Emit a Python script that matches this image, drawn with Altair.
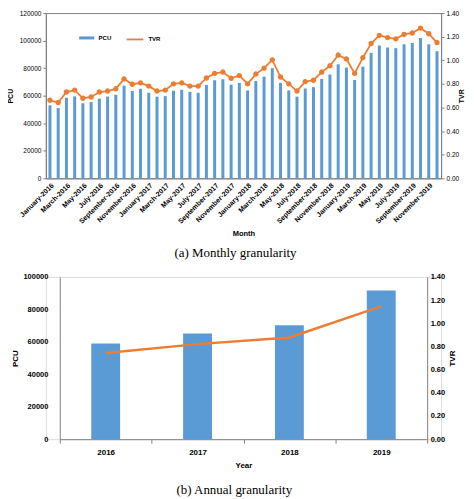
import altair as alt
import pandas as pd

BLUE = "#5B9BD5"
ORANGE = "#ED7D31"

month_names = ["January", "February", "March", "April", "May", "June", "July",
               "August", "September", "October", "November", "December"]
years_m = [2016, 2017, 2018, 2019]
months = [f"{m}-{y}" for y in years_m for m in month_names]

pcu_m = [53000, 51000, 58500, 59500, 54500, 55400, 57800, 59300, 60700, 67300, 63500, 65000,
         62100, 59300, 59700, 63500, 64300, 62800, 62100, 67800, 71200, 71900, 68000, 69300,
         63800, 70700, 73800, 80000, 69300, 63800, 59300, 65200, 66200, 72100, 75400, 82800,
         80400, 71400, 81100, 91100, 96400, 95000, 94500, 97300, 98300, 101900, 97300, 92300]
tvr_m = [0.661, 0.642, 0.731, 0.747, 0.678, 0.689, 0.731, 0.739, 0.758, 0.842, 0.797, 0.808,
         0.781, 0.739, 0.747, 0.800, 0.808, 0.781, 0.781, 0.850, 0.889, 0.900, 0.847, 0.870,
         0.800, 0.883, 0.933, 1.003, 0.858, 0.800, 0.739, 0.819, 0.831, 0.900, 0.953, 1.044,
         1.011, 0.889, 1.022, 1.142, 1.211, 1.192, 1.181, 1.219, 1.231, 1.272, 1.225, 1.150]

years_a = ["2016", "2017", "2018", "2019"]
pcu_a = [59000, 65100, 70200, 91600]
tvr_a = [0.743, 0.820, 0.877, 1.146]

df_m = pd.DataFrame({"month": months, "pcu": pcu_m, "tvr": tvr_m,
                     "s1": "PCU", "s2": "TVR"})
df_a = pd.DataFrame({"year": years_a, "pcu": pcu_a, "tvr": tvr_a,
                     "s1": "PCU", "s2": "TVR"})

AX = "#808080"

# ---------- Monthly panel ----------
xm = alt.X("month:N", sort=months, title="Month",
           scale=alt.Scale(paddingInner=0, paddingOuter=0),
           axis=alt.Axis(values=months[::2], labelAngle=-45, labelFontSize=7,
                         labelFontWeight="bold", labelColor="black", labelFont="Liberation Sans",
                         domainColor=AX, ticks=False, labelPadding=3,
                         titleFontSize=7.5, titleFontWeight="bold", titleFont="Liberation Sans",
                         titlePadding=5, titleColor="black"))

bars_m = alt.Chart(df_m).mark_bar(size=3).encode(
    x=xm,
    y=alt.Y("pcu:Q", title="PCU", scale=alt.Scale(domain=[0, 120000]),
            axis=alt.Axis(values=[0, 20000, 40000, 60000, 80000, 100000, 120000],
                          grid=False, format="d", labelFontSize=6.5, labelColor="black",
                          labelFont="Liberation Sans", domainColor=AX, tickColor=AX, tickSize=3,
                          titleFontSize=7, titleFontWeight="bold", titleFont="Liberation Sans",
                          titleColor="black", titlePadding=6)),
    color=alt.Color("s1:N", title="", scale=alt.Scale(domain=["PCU"], range=[BLUE]),
                    legend=alt.Legend(orient="none", legendX=33, legendY=17,
                                      direction="horizontal", symbolType="M-1,-0.2H1V0.2H-1Z",
                                      symbolSize=230, labelFontSize=6, labelFont="Liberation Sans",
                                      labelColor="black", symbolStrokeWidth=0))
)

line_m = alt.Chart(df_m).mark_line(strokeWidth=1.8,
                                   point=alt.OverlayMarkDef(filled=True, size=12, color=ORANGE)).encode(
    x=xm,
    y=alt.Y("tvr:Q", title="TVR", scale=alt.Scale(domain=[0, 1.4]),
            axis=alt.Axis(orient="right", values=[0, 0.2, 0.4, 0.6, 0.8, 1.0, 1.2, 1.4],
                          format=".2f", grid=False, labelFontSize=6.5, labelColor="black",
                          labelFont="Liberation Sans", domainColor=AX, tickColor=AX, tickSize=3,
                          titleFontSize=7, titleFontWeight="bold", titleFont="Liberation Sans",
                          titleColor="black", titleAngle=270, titlePadding=6)),
    stroke=alt.Stroke("s2:N", title="", scale=alt.Scale(domain=["TVR"], range=[ORANGE]),
                      legend=alt.Legend(orient="none", legendX=80, legendY=17,
                                        direction="horizontal", symbolType="stroke",
                                        symbolSize=280, symbolStrokeWidth=1.8,
                                        labelFontSize=6, labelFont="Liberation Sans",
                                        labelColor="black"))
)

monthly = alt.layer(bars_m, line_m).resolve_scale(y="independent").properties(
    width=397, height=166,
    view=alt.ViewBackground(stroke=AX),
    title=alt.TitleParams("(a) Monthly granularity", orient="bottom", anchor="middle",
                          frame="bounds", font="Liberation Serif", fontSize=13,
                          fontWeight="normal", color="black", offset=10)
)

# ---------- Annual panel ----------
# plot area is inset 14px on each side of the 397px-wide column
xa = alt.X("year:N", sort=years_a, title="Year",
           scale=alt.Scale(paddingInner=0, paddingOuter=0, range=[14, 383]),
           axis=alt.Axis(labelAngle=0, labelFontSize=8, labelFontWeight="bold",
                         labelColor="black", labelFont="Liberation Sans",
                         domainColor=AX, tickColor=AX, tickBand="extent", tickSize=4,
                         labelPadding=5, titleFontSize=8, titleFontWeight="bold",
                         titleFont="Liberation Sans", titleColor="black", titlePadding=5))

bars_a = alt.Chart(df_a).mark_bar(size=29).encode(
    x=xa,
    y=alt.Y("pcu:Q", title="PCU", scale=alt.Scale(domain=[0, 100000]),
            axis=alt.Axis(values=[0, 20000, 40000, 60000, 80000, 100000], format="d",
                          grid=False, labelFontSize=7.5, labelFontWeight="bold",
                          labelColor="black", labelFont="Liberation Sans", domainColor=AX,
                          ticks=False, labelPadding=12, offset=-14,
                          titleFontSize=8, titleFontWeight="bold", titleFont="Liberation Sans",
                          titleColor="black", titlePadding=3)),
    color=alt.Color("s1:N", title="", scale=alt.Scale(domain=["PCU"], range=[BLUE]),
                    legend=alt.Legend(orient="none", legendX=59, legendY=16,
                                      direction="horizontal", symbolType="M-1,-0.25H1V0.25H-1Z",
                                      symbolSize=330, labelFontSize=8, labelFontWeight="bold",
                                      labelFont="Liberation Sans", labelColor="black",
                                      symbolStrokeWidth=0))
)

line_a = alt.Chart(df_a).mark_line(strokeWidth=2.5).encode(
    x=xa,
    y=alt.Y("tvr:Q", title="TVR", scale=alt.Scale(domain=[0, 1.4]),
            axis=alt.Axis(orient="right", values=[0, 0.2, 0.4, 0.6, 0.8, 1.0, 1.2, 1.4],
                          format=".2f", grid=False, labelFontSize=7.5, labelFontWeight="bold",
                          labelColor="black", labelFont="Liberation Sans", domainColor=AX,
                          ticks=False, labelPadding=3, offset=-14,
                          titleFontSize=8, titleFontWeight="bold", titleFont="Liberation Sans",
                          titleColor="black", titleAngle=270, titlePadding=12)),
    stroke=alt.Stroke("s2:N", title="", scale=alt.Scale(domain=["TVR"], range=[ORANGE]),
                      legend=alt.Legend(orient="none", legendX=114, legendY=16,
                                        direction="horizontal", symbolType="stroke",
                                        symbolSize=900, symbolStrokeWidth=2.5,
                                        labelFontSize=8, labelFontWeight="bold",
                                        labelFont="Liberation Sans", labelColor="black"))
)

annual = alt.layer(bars_a, line_a).resolve_scale(y="independent").properties(
    width=397, height=163,
    title=alt.TitleParams("(b) Annual granularity", orient="bottom", anchor="middle",
                          frame="bounds", font="Liberation Serif", fontSize=13,
                          fontWeight="normal", color="black", offset=15)
)

chart = alt.vconcat(monthly, annual, spacing=11).properties(
    padding={"left": -3, "top": 0, "right": 0, "bottom": 0}
).configure_view(stroke="transparent").configure(background="white")

chart.save("out.html", embed_options={"renderer": "svg", "actions": False})
